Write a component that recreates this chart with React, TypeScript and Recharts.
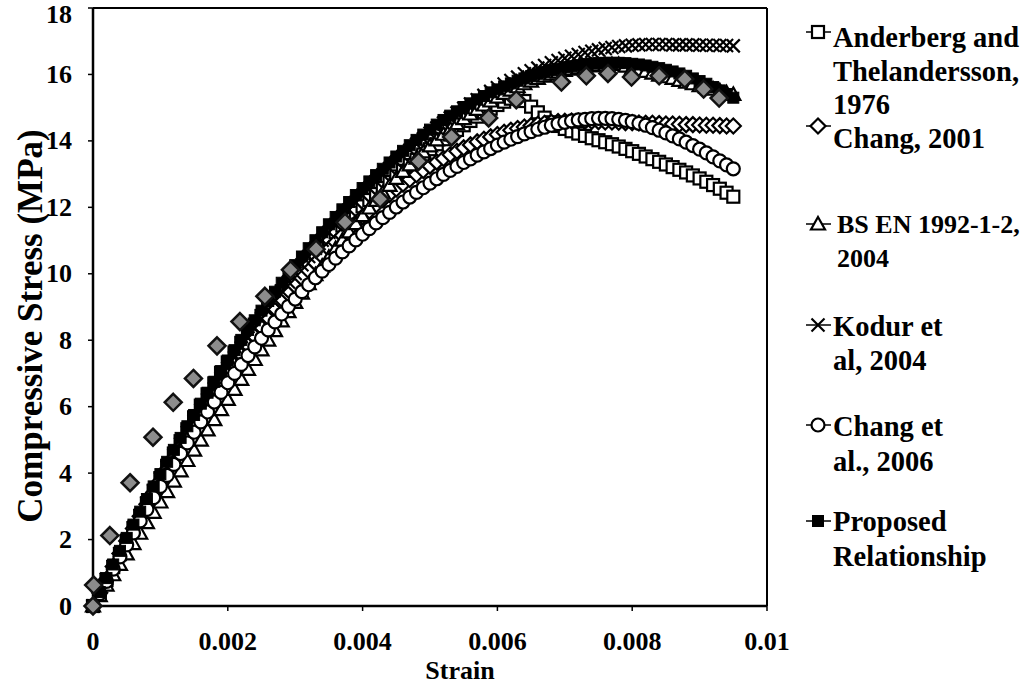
import React from "react";
import { ScatterChart, Scatter, XAxis, YAxis, ReferenceLine } from "recharts";

const FONT = "'Liberation Serif', 'Times New Roman', Times, serif";

// strain steps shared by the model curves
const strain = [
  0, 0.0001, 0.0002, 0.0003, 0.0004, 0.0005, 0.0006, 0.0007, 0.0008, 0.0009,
  0.001, 0.0011, 0.0012, 0.0013, 0.0014, 0.0015, 0.0016, 0.0017, 0.0018, 0.0019,
  0.002, 0.0021, 0.0022, 0.0023, 0.0024, 0.0025, 0.0026, 0.0027, 0.0028, 0.0029,
  0.003, 0.0031, 0.0032, 0.0033, 0.0034, 0.0035, 0.0036, 0.0037, 0.0038, 0.0039,
  0.004, 0.0041, 0.0042, 0.0043, 0.0044, 0.0045, 0.0046, 0.0047, 0.0048, 0.0049,
  0.005, 0.0051, 0.0052, 0.0053, 0.0054, 0.0055, 0.0056, 0.0057, 0.0058, 0.0059,
  0.006, 0.0061, 0.0062, 0.0063, 0.0064, 0.0065, 0.0066, 0.0067, 0.0068, 0.0069,
  0.007, 0.0071, 0.0072, 0.0073, 0.0074, 0.0075, 0.0076, 0.0077, 0.0078, 0.0079,
  0.008, 0.0081, 0.0082, 0.0083, 0.0084, 0.0085, 0.0086, 0.0087, 0.0088, 0.0089,
  0.009, 0.0091, 0.0092, 0.0093, 0.0094, 0.0095,
];

const anderberg = [
  0, 0.39, 0.78, 1.17, 1.56, 1.95, 2.33, 2.71, 3.09, 3.47,
  3.85, 4.22, 4.59, 4.96, 5.32, 5.68, 6.03, 6.37, 6.7, 7.02,
  7.33, 7.63, 7.92, 8.2, 8.47, 8.73, 8.98, 9.23, 9.47, 9.71,
  9.94, 10.17, 10.39, 10.61, 10.83, 11.04, 11.25, 11.45, 11.65, 11.84,
  12.03, 12.22, 12.4, 12.58, 12.76, 12.93, 13.1, 13.27, 13.43, 13.59,
  13.75, 13.9, 14.05, 14.19, 14.33, 14.47, 14.6, 14.73, 14.85, 14.97,
  15.08, 15.18, 15.27, 15.3, 15.2, 15.03, 14.86, 14.7, 14.56, 14.45,
  14.36, 14.29, 14.22, 14.15, 14.08, 14.02, 13.96, 13.9, 13.83, 13.76,
  13.69, 13.61, 13.53, 13.45, 13.37, 13.29, 13.21, 13.13, 13.05, 12.96,
  12.87, 12.77, 12.67, 12.56, 12.44, 12.32,
];

const chang2001 = [
  0, 0.4, 0.8, 1.19, 1.58, 1.96, 2.33, 2.7, 3.06, 3.42,
  3.77, 4.12, 4.46, 4.8, 5.13, 5.45, 5.77, 6.08, 6.39, 6.69,
  6.99, 7.28, 7.56, 7.84, 8.11, 8.38, 8.64, 8.9, 9.15, 9.39,
  9.63, 9.87, 10.09, 10.32, 10.53, 10.75, 10.95, 11.15, 11.34, 11.53,
  11.72, 11.89, 12.07, 12.23, 12.39, 12.55, 12.7, 12.84, 12.98, 13.11,
  13.24, 13.36, 13.47, 13.58, 13.69, 13.79, 13.88, 13.97, 14.05, 14.12,
  14.19, 14.26, 14.32, 14.37, 14.42, 14.46, 14.5, 14.53, 14.56, 14.58,
  14.59, 14.6, 14.6, 14.59, 14.59, 14.58, 14.57, 14.57, 14.56, 14.55,
  14.55, 14.54, 14.53, 14.53, 14.52, 14.51, 14.51, 14.5, 14.49, 14.49,
  14.48, 14.47, 14.47, 14.46, 14.45, 14.45,
];

const bsEn = [
  0, 0.31, 0.63, 0.94, 1.25, 1.57, 1.88, 2.19, 2.51, 2.82,
  3.13, 3.44, 3.76, 4.07, 4.38, 4.69, 4.99, 5.3, 5.61, 5.91,
  6.22, 6.52, 6.82, 7.12, 7.42, 7.71, 8.0, 8.29, 8.58, 8.86,
  9.14, 9.42, 9.7, 9.97, 10.23, 10.5, 10.76, 11.01, 11.26, 11.51,
  11.75, 11.98, 12.21, 12.44, 12.66, 12.87, 13.08, 13.28, 13.48, 13.67,
  13.85, 14.03, 14.2, 14.36, 14.52, 14.67, 14.81, 14.95, 15.08, 15.2,
  15.32, 15.43, 15.53, 15.63, 15.72, 15.8, 15.88, 15.95, 16.01, 16.07,
  16.12, 16.16, 16.2, 16.23, 16.26, 16.28, 16.29, 16.3, 16.3, 16.25,
  16.19, 16.14, 16.09, 16.04, 15.98, 15.93, 15.88, 15.82, 15.77, 15.72,
  15.66, 15.61, 15.56, 15.51, 15.45, 15.4,
];

const kodur = [
  0, 0.41, 0.81, 1.2, 1.59, 1.98, 2.36, 2.73, 3.1, 3.47,
  3.83, 4.18, 4.53, 4.88, 5.22, 5.56, 5.89, 6.21, 6.54, 6.85,
  7.16, 7.47, 7.77, 8.07, 8.36, 8.65, 8.93, 9.21, 9.48, 9.75,
  10.01, 10.27, 10.52, 10.77, 11.01, 11.25, 11.48, 11.71, 11.93, 12.15,
  12.36, 12.57, 12.78, 12.98, 13.17, 13.36, 13.54, 13.72, 13.9, 14.06,
  14.23, 14.39, 14.54, 14.69, 14.84, 14.98, 15.11, 15.24, 15.37, 15.49,
  15.6, 15.71, 15.82, 15.92, 16.02, 16.11, 16.19, 16.27, 16.35, 16.42,
  16.49, 16.55, 16.6, 16.66, 16.7, 16.74, 16.78, 16.81, 16.84, 16.86,
  16.88, 16.89, 16.9, 16.9, 16.9, 16.9, 16.89, 16.89, 16.89, 16.89,
  16.88, 16.88, 16.88, 16.87, 16.87, 16.86,
];

const chang2006 = [
  0, 0.37, 0.74, 1.11, 1.48, 1.84, 2.2, 2.56, 2.91, 3.26,
  3.6, 3.93, 4.26, 4.59, 4.91, 5.23, 5.54, 5.84, 6.14, 6.43,
  6.72, 7.0, 7.27, 7.54, 7.8, 8.06, 8.31, 8.55, 8.79, 9.02,
  9.24, 9.46, 9.67, 9.88, 10.08, 10.28, 10.47, 10.66, 10.84, 11.02,
  11.19, 11.36, 11.53, 11.69, 11.85, 12.01, 12.16, 12.31, 12.45, 12.59,
  12.73, 12.86, 12.99, 13.11, 13.23, 13.35, 13.46, 13.57, 13.67, 13.77,
  13.87, 13.96, 14.05, 14.13, 14.21, 14.28, 14.35, 14.41, 14.47, 14.52,
  14.56, 14.6, 14.63, 14.65, 14.67, 14.68, 14.68, 14.67, 14.65, 14.62,
  14.58, 14.53, 14.47, 14.4, 14.32, 14.24, 14.15, 14.06, 13.96, 13.86,
  13.75, 13.64, 13.52, 13.4, 13.28, 13.16,
];

const proposed = [
  0, 0.42, 0.84, 1.25, 1.66, 2.05, 2.45, 2.84, 3.22, 3.6,
  3.97, 4.34, 4.7, 5.06, 5.41, 5.75, 6.09, 6.42, 6.75, 7.07,
  7.39, 7.7, 8.01, 8.31, 8.6, 8.89, 9.18, 9.46, 9.73, 10.0,
  10.26, 10.52, 10.77, 11.01, 11.25, 11.49, 11.71, 11.94, 12.16, 12.37,
  12.58, 12.78, 12.97, 13.16, 13.35, 13.53, 13.7, 13.87, 14.03, 14.19,
  14.34, 14.49, 14.63, 14.76, 14.89, 15.02, 15.13, 15.25, 15.35, 15.46,
  15.55, 15.64, 15.73, 15.81, 15.88, 15.95, 16.02, 16.07, 16.13, 16.17,
  16.22, 16.25, 16.28, 16.31, 16.33, 16.34, 16.35, 16.35, 16.35, 16.34,
  16.32, 16.3, 16.27, 16.23, 16.19, 16.14, 16.09, 16.03, 15.96, 15.88,
  15.8, 15.72, 15.62, 15.52, 15.41, 15.3,
];

// grey diamonds (measured points, not in legend)
const testStrain = [
  0, 0.00001, 0.00025, 0.00055, 0.00089, 0.00119, 0.00149, 0.00184, 0.00218,
  0.00255, 0.00293, 0.00331, 0.00374, 0.00426, 0.00483, 0.00532, 0.00587,
  0.00628, 0.00695, 0.00732, 0.00764, 0.00799, 0.0084, 0.00878, 0.00906, 0.00929,
];
const testStress = [
  0, 0.63, 2.12, 3.71, 5.08, 6.13, 6.85, 7.83, 8.56,
  9.32, 10.12, 10.74, 11.55, 12.25, 13.38, 14.12, 14.69,
  15.24, 15.77, 15.96, 16.03, 15.92, 15.96, 15.86, 15.56, 15.29,
];

const xTicks = [0, 0.002, 0.004, 0.006, 0.008, 0.01];
const xTickLabels = ["0", "0.002", "0.004", "0.006", "0.008", "0.01"];
const yTicks = [0, 2, 4, 6, 8, 10, 12, 14, 16, 18];

const toPoints = (ys: number[]) => strain.map((x, i) => ({ x, y: ys[i] }));
const testPoints = testStrain.map((x, i) => ({ x, y: testStress[i] }));

type ShapeProps = { cx?: number; cy?: number };

const OpenSquare = ({ cx = 0, cy = 0 }: ShapeProps) => (
  <rect x={cx - 6} y={cy - 6} width={12} height={12} fill="#fff" stroke="#000" strokeWidth={2.2} />
);
const OpenDiamond = ({ cx = 0, cy = 0 }: ShapeProps) => (
  <polygon
    points={`${cx},${cy - 7.5} ${cx + 7.5},${cy} ${cx},${cy + 7.5} ${cx - 7.5},${cy}`}
    fill="#fff"
    stroke="#000"
    strokeWidth={2.2}
  />
);
const OpenTriangle = ({ cx = 0, cy = 0 }: ShapeProps) => (
  <polygon
    points={`${cx},${cy - 7} ${cx + 7},${cy + 5.5} ${cx - 7},${cy + 5.5}`}
    fill="#fff"
    stroke="#000"
    strokeWidth={2.2}
  />
);
const Cross = ({ cx = 0, cy = 0 }: ShapeProps) => (
  <g stroke="#000" strokeWidth={2.2}>
    <line x1={cx - 6.5} y1={cy - 6.5} x2={cx + 6.5} y2={cy + 6.5} />
    <line x1={cx - 6.5} y1={cy + 6.5} x2={cx + 6.5} y2={cy - 6.5} />
  </g>
);
const OpenCircle = ({ cx = 0, cy = 0 }: ShapeProps) => (
  <circle cx={cx} cy={cy} r={6.5} fill="#fff" stroke="#000" strokeWidth={2.2} />
);
const FilledSquare = ({ cx = 0, cy = 0 }: ShapeProps) => (
  <rect x={cx - 5.5} y={cy - 5.5} width={11} height={11} fill="#000" stroke="#000" strokeWidth={1} />
);
const GreyDiamond = ({ cx = 0, cy = 0 }: ShapeProps) => (
  <polygon
    points={`${cx},${cy - 8.5} ${cx + 8.5},${cy} ${cx},${cy + 8.5} ${cx - 8.5},${cy}`}
    fill="#8c8c8c"
    stroke="#111"
    strokeWidth={2.5}
  />
);

const series = [
  { name: "Anderberg", data: toPoints(anderberg), Shape: OpenSquare },
  { name: "Chang 2001", data: toPoints(chang2001), Shape: OpenDiamond },
  { name: "BS EN", data: toPoints(bsEn), Shape: OpenTriangle },
  { name: "Kodur", data: toPoints(kodur), Shape: Cross },
  { name: "Chang 2006", data: toPoints(chang2006), Shape: OpenCircle },
  { name: "Proposed", data: toPoints(proposed), Shape: FilledSquare },
  { name: "Test", data: testPoints, Shape: GreyDiamond },
];

const legendRows = [
  { Shape: OpenSquare, markerY: 32, lines: ["Anderberg and", "Thelandersson,", "1976"], lineY: [37, 71, 104], x: 833, size: 28.5 },
  { Shape: OpenDiamond, markerY: 126, lines: ["Chang, 2001"], lineY: [138], x: 833, size: 28.5 },
  { Shape: OpenTriangle, markerY: 224, lines: ["BS EN 1992-1-2,", "2004"], lineY: [224, 258], x: 837, size: 26 },
  { Shape: Cross, markerY: 325, lines: ["Kodur et", "al, 2004"], lineY: [326, 360], x: 833, size: 28.5 },
  { Shape: OpenCircle, markerY: 425, lines: ["Chang et", "al., 2006"], lineY: [426, 461], x: 833, size: 28.5 },
  { Shape: FilledSquare, markerY: 521, lines: ["Proposed", "Relationship"], lineY: [521, 556], x: 833, size: 28.5 },
];

const W = 1029;
const H = 687;
const plot = { left: 93, right: 767, top: 8, bottom: 606 };
const TICK_FONT = { fill: "#000", fontSize: 26, fontWeight: 700, fontFamily: FONT };

// y tick label, kept inside the page at the top end
const YTick = (props: any) => {
  const { x, y, payload } = props;
  const ty = Math.max(y, 14);
  return (
    <text x={x} y={ty} textAnchor="end" dominantBaseline="central" {...TICK_FONT}>
      {payload.value}
    </text>
  );
};

export default function App() {
  return (
    <div style={{ position: "absolute", left: 0, top: 0, width: W, height: H, background: "#fff" }}>
      <ScatterChart
        width={W}
        height={H}
        margin={{ top: plot.top, right: W - plot.right, bottom: H - plot.bottom - 80, left: plot.left - 80 }}
      >
        <XAxis
          type="number"
          dataKey="x"
          domain={[0, 0.01]}
          ticks={xTicks}
          tickFormatter={(v: number) => xTickLabels[xTicks.indexOf(v)] ?? String(v)}
          axisLine={{ stroke: "#000", strokeWidth: 2.5 }}
          tickLine={{ stroke: "#000", strokeWidth: 1.5 }}
          tickSize={5}
          tickMargin={21}
          tick={TICK_FONT}
          height={80}
          interval={0}
        />
        <YAxis
          type="number"
          dataKey="y"
          domain={[0, 18]}
          ticks={yTicks}
          axisLine={{ stroke: "#000", strokeWidth: 2.5 }}
          tickLine={{ stroke: "#000", strokeWidth: 1.5 }}
          tickSize={5}
          tickMargin={16}
          tick={<YTick />}
          width={80}
          interval={0}
        />
        <ReferenceLine y={18} stroke="#000" strokeWidth={2} />
        <ReferenceLine x={0.01} stroke="#000" strokeWidth={2} />
        {series.map(({ name, data, Shape }) => (
          <Scatter
            key={name}
            name={name}
            data={data}
            isAnimationActive={false}
            shape={(p: any) => <Shape cx={p.cx} cy={p.cy} />}
          />
        ))}
      </ScatterChart>
      <svg
        width={W}
        height={H}
        style={{ position: "absolute", left: 0, top: 0, pointerEvents: "none" }}
        fontFamily={FONT}
        fontWeight={700}
      >
        <text
          x={30}
          y={326}
          transform="rotate(-90, 30, 326)"
          textAnchor="middle"
          dominantBaseline="central"
          fontSize={35}
        >
          Compressive Stress (MPa)
        </text>
        <text x={460} y={670} textAnchor="middle" dominantBaseline="central" fontSize={26}>
          Strain
        </text>
        {legendRows.map(({ Shape, markerY, lines, lineY, x, size }, i) => (
          <g key={i}>
            <line x1={806} x2={831} y1={markerY} y2={markerY} stroke="#000" strokeWidth={1.5} />
            <Shape cx={818} cy={markerY} />
            {lines.map((t, j) => (
              <text key={j} x={x} y={lineY[j]} dominantBaseline="central" fontSize={size}>
                {t}
              </text>
            ))}
          </g>
        ))}
      </svg>
    </div>
  );
}
